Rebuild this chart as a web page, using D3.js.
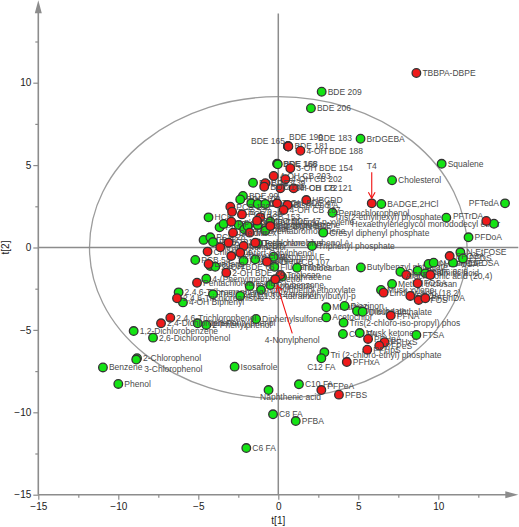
<!DOCTYPE html>
<html>
<head>
<meta charset="utf-8">
<script src="https://cdn.jsdelivr.net/npm/d3@7"></script>
<style>
  body { margin: 0; background: #fff; }
  svg { font-family: "Liberation Sans", Arial, sans-serif; }
</style>
</head>
<body>
<script>
// score values t[1], t[2] per compound, split in the two classes
var greenNames = ["BDE 209","BDE 206","BrDGEBA","BDE 166","BDE 168","BDE 153","BDE 99","BDE 100","BDE 47","BDE 85",
  "BDE 28","Pentachlorophenol","HCB","PCB 118","PCB 105","Tonalide","Galaxolide","Octachlorostyrene","Hexabromobenzene","Pentabromotoluene",
  "Tetrabromo-p-xylene","Cresyl diphenyl phosphate","PCB 52","PCB 28","PCB 101","Tetrachlorobisphenol A","Triphenyl phosphate","PCB 54","PCB 31","Phenanthrene",
  "Pyrene","Bisphenol F","Fluoranthene","Triclocarban","Butylbenzyl phthalate","Anthracene","2'-OH BDE 66","4-(Phenylmethyl)phenol","Benzophenone","Nonylphenol ethoxylate",
  "Oxybenzone","2,4,6-Tribromophenol","4-OH Biphenyl","Tris(1,3-dichloro-2-propyl)","4-(1,1,3,3-tetramethylbutyl)-p","1,2-Dichlorobenzene","2,6-Dichlorophenol","2-Chlorophenol","3-Chlorophenol","Benzene",
  "Phenol","4-tert-Pentylphenol","2-Phenylphenol","Diphenylsulfone","Isosafrole","C10 FA","Naphthenic acid","C8 FA","PFBA","C6 FA",
  "Tri (2-chloro-ethyl) phosphate","C12 FA","Malathion","Diazinon","Acetochlor","Dimethoate","Dibutyl phthalate","Tris(2-chloro-iso-propyl) phos","C14 FA","Musk ketone",
  "FTSA","Methyl triclosan","Musk xylene","Oleic acid","Stearic acid","Palmitic acid","N-MeFOSA","N-MeFOSE","N-EtFOSA","N-EtFOSE",
  "PFDS","PFDoA","PFTedA","Hexaethyleneglycol monododecyl ether","Tris(2-ethylhexyl) phosphate","Squalene","Cholesterol","BADGE,2HCl"];
var greenT1 = [2.71,2.04,5.14,-0.08,-0.03,-1.58,-2.21,-2.38,-1.69,-1.29,
  -0.81,3.39,-4.36,-3.67,-3.42,-2.48,-2.13,-1.92,-1.29,-0.81,
  -0.5,2.81,-4.67,-4.25,-4.08,-1.29,2.11,-5.19,-4.25,-2.17,
  -1.44,-0.29,-0.25,1.17,5.16,0.23,-3.94,-4.5,-1.79,-1.08,
  -0.5,-6.23,-5.96,-4.08,-2.38,-9.04,-7.83,-8.83,-8.88,-10.96,
  -10.0,-5.04,-4.5,-1.39,-2.73,1.29,-0.61,-0.33,1.09,-2.0,
  2.88,2.69,3.0,4.14,3.0,4.92,5.27,4.08,4.04,5.09,
  8.63,7.11,6.42,7.63,8.71,9.19,9.39,9.71,10.92,11.38,
  11.54,11.89,14.17,13.48,10.5,10.21,7.11,6.44];
var greenT2 = [9.45,8.45,6.60,5.08,5.05,3.93,3.13,2.92,2.68,2.64,
  2.64,2.11,1.83,1.23,1.43,1.37,1.10,1.30,1.37,1.02,
  1.57,0.90,0.46,0.62,0.33,0.25,0.09,-0.76,-1.12,-0.80,
  -0.72,-0.56,-1.17,-1.23,-1.21,-1.77,-1.17,-1.89,-2.34,-2.58,
  -2.28,-2.72,-3.33,-2.84,-2.94,-5.07,-5.47,-6.72,-6.80,-7.28,
  -8.28,-4.60,-4.70,-4.34,-7.23,-8.30,-8.65,-10.12,-10.53,-12.17,
  -6.36,-6.72,-3.63,-3.55,-4.24,-3.85,-3.90,-4.56,-5.25,-5.19,
  -5.31,-2.21,-2.58,-1.47,-1.41,-1.57,-1.00,-0.92,-0.92,-0.29,
  -0.66,0.62,2.68,1.44,1.81,5.08,4.08,2.64];

var redNames = ["TBBPA-DBPE","BDE 190","BDE 183","BDE 165","BDE 181","4-OH BDE 188","3-OH BDE 154","4-OH CB 203","4-OH CB 202","4-OH CB 172",
  "4'-OH CB 121","BDE 139","BDE 140","HBCDD","6-OH BDE 47","Bisphenol A","4-OH CB 187","PCB 180","PCB 170","PCB 153",
  "PCB 138","p,p'-DDE","Mirex","Dieldrin","6-MeO BDE 47","2,2'-diOH BDE","Chlordane","trans-Nonachlor","o,p'-DDT","p,p'-DDT",
  "Dechlorane plus","Lindane","Methoxychlor","4-tert-Octylphenol","4-OH PCB 107","Triclosan","2-OH BDE 28","Pentachloroanisole","4-Nonylphenol","2,4,6-Trichloroanisole",
  "2,4,6-Trichlorophenol","2,4-Dichlorophenol","PFPeA","PFBS","PFHxA","PFNA","PFHpA","PFHxS","PFPeS","PFHpS",
  "FOSA","Linoleic acid (18,2)","PFOA","PFOS","PFUnDA","PFDA","Arachidonic acid (20,4)","PFOSA","PFTrDA","T4"];
var redT1 = [8.63,0.61,0.61,0.61,0.63,1.38,0.75,-0.29,0.44,0.13,
  0.96,-0.81,-0.88,1.75,-0.08,0.58,0.33,-3.0,-2.89,-1.13,
  -2.27,-2.94,-1.79,-2.83,-1.33,-0.5,-4.42,-3.63,-3.11,-2.17,
  -1.44,-4.36,-2.94,-2.38,-0.71,0.13,-3.25,-5.08,-0.19,-6.33,
  -6.75,-7.33,2.69,3.79,4.28,7.03,5.61,6.64,6.31,5.56,
  8.71,6.58,8.25,8.77,9.19,8.0,9.5,10.71,13.0,5.84];
var redT2 = [10.59,6.14,6.14,6.14,6.13,5.87,4.81,4.34,4.14,3.59,
  3.59,3.90,3.69,2.88,2.68,2.58,2.28,2.48,2.17,1.83,
  2.01,1.57,0.90,0.90,1.63,1.30,-0.25,0.01,0.29,0.09,
  0.29,-1.00,-0.52,-0.32,-0.86,-1.67,-1.53,-2.14,-1.93,-3.08,
  -4.26,-4.60,-8.65,-8.93,-6.95,-4.13,-5.55,-5.75,-5.96,-6.20,
  -2.17,-2.74,-2.94,-3.19,-3.08,-1.67,-1.67,-0.52,1.61,2.68];

var majorTicks = [-15, -10, -5, 0, 5, 10];
var minorTicks = [-12.5, -7.5, -2.5, 2.5, 7.5, 12.5];

// labels that are not simply put to the right of their point: [dx, dy, anchor]
var labelNudge = {
  "BDE 190": [1, -9, "start"], "BDE 183": [30, -8, "start"], "BDE 165": [-3, -5, "end"],
  "PFTedA": [-6, 0, "end"], "PFTrDA": [-3, -5, "end"],
  "Hexaethyleneglycol monododecyl ether": [6, 0, "end"],
  "Tris(2-ethylhexyl) phosphate": [-5, -1, "end"],
  "3-Chlorophenol": [8, 9, "start"], "Naphthenic acid": [22, 7, "middle"],
  "C12 FA": [0, 9, "middle"], "4-Nonylphenol": [17, 61, "middle"],
  "T4": [0, -37, "middle"], "PFPeA": [6, -4, "start"],
  "Tri (2-chloro-ethyl) phosphate": [6, 3, "start"],
  "Arachidonic acid (20,4)": [62, 1, "end"]
};

var width = 519, height = 527;
var svg = d3.select("body").append("svg")
  .attr("width", width)
  .attr("height", height);

var x = d3.scaleLinear().domain([-15, 15]).range([38.3, 518.3]);
var y = d3.scaleLinear().domain([-15, 15]).range([494.7, 0.3]);

var axisColor = "#8c8c8c";

// Hotelling ellipse
svg.append("ellipse")
  .attr("cx", x(0)).attr("cy", y(0))
  .attr("rx", x(11.8) - x(0))
  .attr("ry", y(0) - y(9.15))
  .attr("fill", "none")
  .attr("stroke", "#9c9c9c")
  .attr("stroke-width", 1.3);

// zero lines
svg.append("line")
  .attr("x1", x(-15)).attr("x2", x(15))
  .attr("y1", y(0)).attr("y2", y(0))
  .attr("stroke", axisColor).attr("stroke-width", 1.5);
svg.append("line")
  .attr("x1", x(0)).attr("x2", x(0))
  .attr("y1", y(14.2)).attr("y2", y(-15))
  .attr("stroke", axisColor).attr("stroke-width", 1.5);

// X axis
var gx = svg.append("g")
  .attr("transform", "translate(0," + y(-15) + ")")
  .call(d3.axisBottom(x).tickValues(majorTicks).tickSize(5).tickSizeOuter(0).tickPadding(3));
var gxm = svg.append("g")
  .attr("transform", "translate(0," + y(-15) + ")")
  .call(d3.axisBottom(x).tickValues(minorTicks).tickSize(3).tickFormat(""));

// Y axis
var gy = svg.append("g")
  .attr("transform", "translate(" + x(-15) + ",0)")
  .call(d3.axisLeft(y).tickValues(majorTicks).tickSize(5).tickSizeOuter(0).tickPadding(2));
var gym = svg.append("g")
  .attr("transform", "translate(" + x(-15) + ",0)")
  .call(d3.axisLeft(y).tickValues(minorTicks).tickSize(3).tickFormat(""));

[gx, gxm, gy, gym].forEach(function(g) {
  g.select(".domain").remove();
  g.selectAll(".tick line").attr("stroke", axisColor).attr("stroke-width", 1.2);
  g.selectAll(".tick text").attr("fill", "#222").style("font-size", "10px")
    .style("font-family", "'Liberation Sans', Arial, sans-serif");
});

// axis lines with arrow heads
svg.append("line")
  .attr("x1", x(-15)).attr("x2", x(15) - 8)
  .attr("y1", y(-15)).attr("y2", y(-15))
  .attr("stroke", axisColor).attr("stroke-width", 1.6);
svg.append("path")
  .attr("d", "M" + x(15) + "," + y(-15) + "L" + (x(15) - 13) + "," + (y(-15) - 3.5) +
             "L" + (x(15) - 13) + "," + (y(-15) + 3.5) + "Z")
  .attr("fill", axisColor);
svg.append("line")
  .attr("x1", x(-15)).attr("x2", x(-15))
  .attr("y1", y(-15)).attr("y2", y(15) + 8)
  .attr("stroke", axisColor).attr("stroke-width", 1.6);
svg.append("path")
  .attr("d", "M" + x(-15) + "," + y(15) + "L" + (x(-15) - 3.5) + "," + (y(15) + 13) +
             "L" + (x(-15) + 3.5) + "," + (y(15) + 13) + "Z")
  .attr("fill", axisColor);

// axis titles
svg.append("text")
  .attr("x", x(0)).attr("y", 524)
  .attr("text-anchor", "middle")
  .style("font-size", "10px").attr("fill", "#222")
  .text("t[1]");
svg.append("text")
  .attr("transform", "translate(9," + y(0) + ") rotate(-90)")
  .attr("text-anchor", "middle")
  .style("font-size", "10px").attr("fill", "#222")
  .text("t[2]");

// points + labels
function addSeries(names, t1, t2, fill) {
  var data = names.map(function(n, i) { return {name: n, t1: t1[i], t2: t2[i]}; });
  var g = svg.selectAll(null)
    .data(data)
    .enter()
    .append("g");
  g.append("text")
    .attr("x", function(d) { return x(d.t1) + (labelNudge[d.name] ? labelNudge[d.name][0] : 6); })
    .attr("y", function(d) { return y(d.t2) + (labelNudge[d.name] ? labelNudge[d.name][1] : 0); })
    .attr("dy", "0.35em")
    .attr("text-anchor", function(d) { return labelNudge[d.name] ? labelNudge[d.name][2] : "start"; })
    .style("font-size", "8.5px")
    .attr("fill", "#4a4a4a")
    .text(function(d) { return d.name; });
  g.append("circle")
    .attr("cx", function(d) { return x(d.t1); })
    .attr("cy", function(d) { return y(d.t2); })
    .attr("r", 4.3)
    .attr("fill", fill)
    .attr("stroke", "#333")
    .attr("stroke-width", 1.3);
}
addSeries(greenNames, greenT1, greenT2, "#14e314");
addSeries(redNames, redT1, redT2, "#ee1a1a");

// red pointer arrows for T4 and 4-Nonylphenol
function pointer(name, x1, y1, x2, y2) {
  var i = redNames.indexOf(name);
  var px = x(redT1[i]), py = y(redT2[i]);
  var ax = px + x2, ay = py + y2, bx = px + x1, by = py + y1;
  var ang = Math.atan2(ay - by, ax - bx);
  svg.append("line")
    .attr("x1", bx).attr("y1", by).attr("x2", ax).attr("y2", ay)
    .attr("stroke", "#f01010").attr("stroke-width", 1.1);
  var h = 7, w = 0.5;
  svg.append("path")
    .attr("d", "M" + (ax - h * Math.cos(ang - w)) + "," + (ay - h * Math.sin(ang - w)) +
               "L" + ax + "," + ay +
               "L" + (ax - h * Math.cos(ang + w)) + "," + (ay - h * Math.sin(ang + w)))
    .attr("fill", "none").attr("stroke", "#f01010").attr("stroke-width", 1.1);
}
pointer("T4", 0, -31, 0, -5);
pointer("4-Nonylphenol", 17, 54, 2, 6);
</script>
</body>
</html>
